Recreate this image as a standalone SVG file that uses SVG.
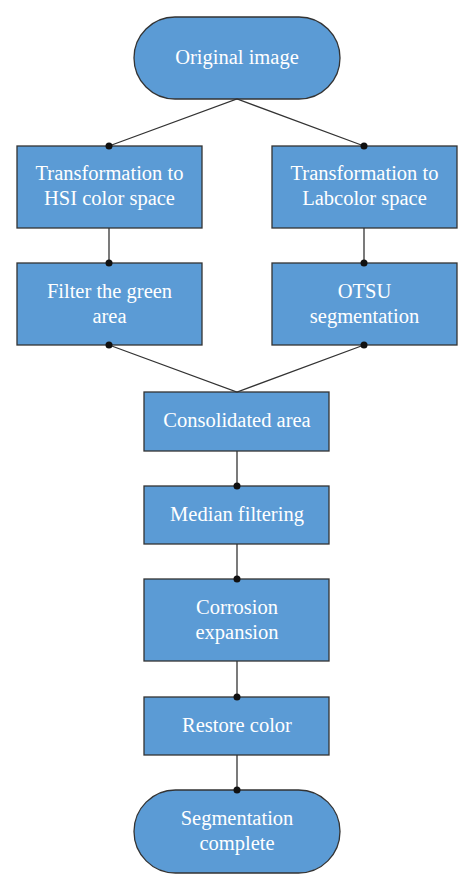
<svg xmlns="http://www.w3.org/2000/svg" width="474" height="890" viewBox="0 0 474 890">
<defs>
<style>
.n{fill:#5b9bd5;stroke:#333;stroke-width:1.3}
.t{fill:#fff;font-family:"Liberation Serif","Times New Roman",serif;font-size:20.5px;text-anchor:middle}
.c{stroke:#333;stroke-width:1.3;fill:none}
.d{fill:#111}
</style>
</defs>
<rect width="474" height="890" fill="#fff"/>
<g id="original">
<rect class="n" x="134" y="17" width="206" height="82" rx="41" ry="41"/>
<text class="t" x="237" y="64">Original image</text>
</g>
<g id="hsi">
<rect class="n" x="17" y="146" width="185" height="82"/>
<text class="t" x="109.5" y="180">Transformation to</text>
<text class="t" x="109.5" y="205">HSI color space</text>
</g>
<g id="lab">
<rect class="n" x="272" y="146" width="185" height="82"/>
<text class="t" x="364.5" y="180">Transformation to</text>
<text class="t" x="364.5" y="205">Labcolor space</text>
</g>
<g id="filter">
<rect class="n" x="17" y="263" width="185" height="82"/>
<text class="t" x="109.5" y="298">Filter the green</text>
<text class="t" x="109.5" y="323">area</text>
</g>
<g id="otsu">
<rect class="n" x="272" y="263" width="185" height="82"/>
<text class="t" x="364.5" y="298">OTSU</text>
<text class="t" x="364.5" y="323">segmentation</text>
</g>
<g id="consolidated">
<rect class="n" x="144" y="392" width="185" height="59"/>
<text class="t" x="237" y="427">Consolidated area</text>
</g>
<g id="median">
<rect class="n" x="144" y="486" width="185" height="58"/>
<text class="t" x="237" y="521">Median filtering</text>
</g>
<g id="corrosion">
<rect class="n" x="144" y="579" width="185" height="82"/>
<text class="t" x="237" y="614">Corrosion</text>
<text class="t" x="237" y="639">expansion</text>
</g>
<g id="restore">
<rect class="n" x="144" y="697" width="185" height="58"/>
<text class="t" x="237" y="732">Restore color</text>
</g>
<g id="complete">
<rect class="n" x="134" y="790" width="206" height="83" rx="41.5" ry="41.5"/>
<text class="t" x="237" y="825">Segmentation</text>
<text class="t" x="237" y="850">complete</text>
</g>
<g id="connectors">
<polyline class="c" points="109,146 237,99 364,146"/>
<line class="c" x1="109" y1="228" x2="109" y2="263"/>
<line class="c" x1="364" y1="228" x2="364" y2="263"/>
<polyline class="c" points="109,345 237,392 364,345"/>
<line class="c" x1="237" y1="451" x2="237" y2="486"/>
<line class="c" x1="237" y1="544" x2="237" y2="579"/>
<line class="c" x1="237" y1="661" x2="237" y2="697"/>
<line class="c" x1="237" y1="755" x2="237" y2="790"/>
<circle class="d" cx="109" cy="146" r="3.5"/>
<circle class="d" cx="364" cy="146" r="3.5"/>
<circle class="d" cx="109" cy="263" r="3.5"/>
<circle class="d" cx="364" cy="263" r="3.5"/>
<circle class="d" cx="109" cy="345" r="3.5"/>
<circle class="d" cx="364" cy="345" r="3.5"/>
<circle class="d" cx="237" cy="486" r="3.5"/>
<circle class="d" cx="237" cy="579" r="3.5"/>
<circle class="d" cx="237" cy="697" r="3.5"/>
<circle class="d" cx="237" cy="790" r="3.5"/>
</g>
</svg>
